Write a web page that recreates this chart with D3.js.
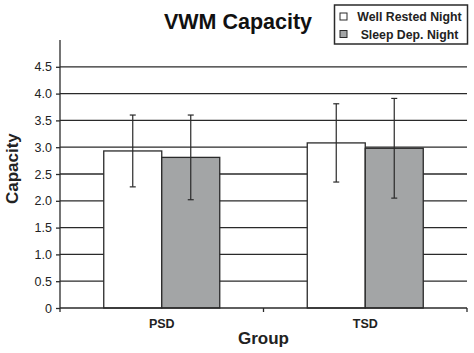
<!DOCTYPE html>
<html>
<head>
<meta charset="utf-8">
<script src="https://cdn.jsdelivr.net/npm/d3@7"></script>
<style>
  body { margin: 0; background: #fff; }
  svg { display: block; font-family: Arial, "Liberation Sans", sans-serif; }
</style>
</head>
<body>
<div id="chart"></div>
<script>
// Chart data
const groups = ["PSD", "TSD"];
const seriesNames = ["Well Rested Night", "Sleep Dep. Night"];
const wellRested = [2.93, 3.08];
const sleepDep = [2.81, 2.98];
const wellRestedErr = [0.67, 0.73];
const sleepDepErr = [0.79, 0.93];
const yTicks = [0, 0.5, 1.0, 1.5, 2.0, 2.5, 3.0, 3.5, 4.0, 4.5];

const width = 474, height = 353;
const margin = { top: 40, right: 7, bottom: 45, left: 60 };
const colors = ["#ffffff", "#a3a5a6"];
const lineColor = "#2a2a2a";

const svg = d3.select("#chart").append("svg")
    .attr("width", width)
    .attr("height", height);

// Scales
const x = d3.scaleBand()
    .domain(groups)
    .range([margin.left, width - margin.right]);
const y = d3.scaleLinear()
    .domain([0, 5])
    .range([height - margin.bottom, margin.top]);
const barW = 58;

// Gridlines (behind bars)
svg.append("g")
    .selectAll("line")
    .data(yTicks.filter(d => d > 0))
    .enter().append("line")
    .attr("x1", margin.left)
    .attr("x2", width - margin.right)
    .attr("y1", d => y(d))
    .attr("y2", d => y(d))
    .attr("stroke", lineColor)
    .attr("stroke-width", 1.3);

// Build rows for bars
const rows = [];
groups.forEach((g, i) => {
    rows.push({ group: g, s: 0, value: wellRested[i], err: wellRestedErr[i] });
    rows.push({ group: g, s: 1, value: sleepDep[i], err: sleepDepErr[i] });
});
const barX = d => x(d.group) + x.bandwidth() / 2 + (d.s === 0 ? -barW : 0);

svg.append("g")
    .selectAll("rect")
    .data(rows)
    .enter().append("rect")
    .attr("x", barX)
    .attr("y", d => y(d.value))
    .attr("width", barW)
    .attr("height", d => y(0) - y(d.value))
    .attr("fill", d => colors[d.s])
    .attr("stroke", lineColor)
    .attr("stroke-width", 1.3);

// Error bars
const eb = svg.append("g")
    .selectAll("g")
    .data(rows)
    .enter().append("g")
    .attr("stroke", lineColor)
    .attr("stroke-width", 1.2);
eb.append("line")
    .attr("x1", d => barX(d) + barW / 2)
    .attr("x2", d => barX(d) + barW / 2)
    .attr("y1", d => y(d.value + d.err))
    .attr("y2", d => y(d.value - d.err));
eb.selectAll(".cap")
    .data(d => [{ d, v: d.value + d.err }, { d, v: d.value - d.err }])
    .enter().append("line")
    .attr("class", "cap")
    .attr("x1", c => barX(c.d) + barW / 2 - 3)
    .attr("x2", c => barX(c.d) + barW / 2 + 3)
    .attr("y1", c => y(c.v))
    .attr("y2", c => y(c.v));

// Y axis
const yAxis = svg.append("g")
    .attr("transform", `translate(${margin.left},0)`)
    .call(d3.axisLeft(y).tickValues(yTicks).tickSize(4).tickPadding(4)
        .tickFormat(d => d === 0 ? "0" : d3.format(".1f")(d)));
yAxis.select(".domain").remove();
yAxis.append("line")
    .attr("x1", 0).attr("x2", 0)
    .attr("y1", y(5)).attr("y2", y(0))
    .attr("stroke", lineColor).attr("stroke-width", 1.3);
yAxis.selectAll(".tick line").attr("stroke", lineColor).attr("stroke-width", 1.3);
yAxis.selectAll(".tick text")
    .attr("fill", "#222")
    .style("font-size", "12.5px");

// X axis
const xAxis = svg.append("g")
    .attr("transform", `translate(0,${y(0)})`);
xAxis.append("line")
    .attr("x1", margin.left).attr("x2", width - margin.right)
    .attr("stroke", lineColor).attr("stroke-width", 1.3);
const xTickPos = groups.map(g => x(g)).concat([x(groups[groups.length - 1]) + x.bandwidth()]);
xAxis.selectAll(".xtick")
    .data(xTickPos)
    .enter().append("line")
    .attr("x1", d => d).attr("x2", d => d)
    .attr("y1", 0).attr("y2", 4)
    .attr("stroke", lineColor).attr("stroke-width", 1.3);
xAxis.selectAll(".xlabel")
    .data(groups)
    .enter().append("text")
    .attr("x", d => x(d) + x.bandwidth() / 2)
    .attr("y", 20)
    .attr("text-anchor", "middle")
    .style("font-size", "12.5px")
    .style("font-weight", "bold")
    .attr("fill", "#222")
    .text(d => d);

// Axis titles
svg.append("text")
    .attr("x", (margin.left + width - margin.right) / 2)
    .attr("y", 344)
    .attr("text-anchor", "middle")
    .style("font-size", "17px")
    .style("font-weight", "bold")
    .attr("fill", "#222")
    .text("Group");
svg.append("text")
    .attr("transform", `translate(18,${y(2.6)}) rotate(-90)`)
    .attr("text-anchor", "middle")
    .style("font-size", "17px")
    .style("font-weight", "bold")
    .attr("fill", "#222")
    .text("Capacity");

// Title
svg.append("text")
    .attr("x", 238)
    .attr("y", 29)
    .attr("text-anchor", "middle")
    .style("font-size", "21.5px")
    .style("font-weight", "bold")
    .attr("fill", "#111")
    .text("VWM Capacity");

// Legend
const legend = svg.append("g");
legend.append("rect")
    .attr("x", 334.5).attr("y", 5)
    .attr("width", 133).attr("height", 39)
    .attr("fill", "#fff")
    .attr("stroke", lineColor).attr("stroke-width", 1.5);
const items = legend.selectAll(".item")
    .data(seriesNames)
    .enter().append("g")
    .attr("transform", (d, i) => `translate(0,${16.5 + i * 17.5})`);
items.append("rect")
    .attr("x", 340).attr("y", -3.5)
    .attr("width", 7).attr("height", 7)
    .attr("fill", (d, i) => colors[i])
    .attr("stroke", lineColor).attr("stroke-width", 1);
items.append("text")
    .attr("x", 409.5)
    .attr("y", 4.5)
    .attr("text-anchor", "middle")
    .style("font-size", "12.3px")
    .style("font-weight", "bold")
    .attr("fill", "#222")
    .text(d => d);
</script>
</body>
</html>
